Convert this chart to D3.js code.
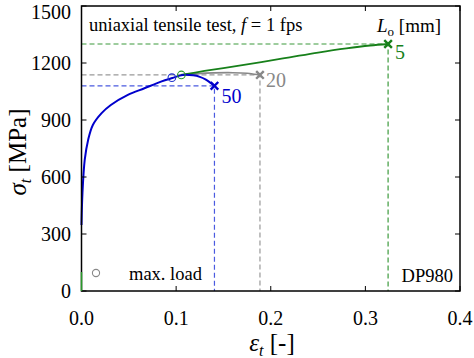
<!DOCTYPE html>
<html><head><meta charset="utf-8">
<script src="https://cdn.jsdelivr.net/npm/d3@7"></script>
<style>body{margin:0;background:#fff}svg{display:block}</style>
</head><body><svg id="c" width="474" height="358" style="font-family:'Liberation Serif','Times New Roman',serif"></svg>
<script>
const xTicks = [0, 0.1, 0.2, 0.3, 0.4];
const xTickLabels = ["0.0", "0.1", "0.2", "0.3", "0.4"];
const yTicks = [0, 300, 600, 900, 1200, 1500];
const blueStrain = [0, 0.001, 0.0034, 0.007, 0.012, 0.021, 0.031, 0.049, 0.0665, 0.084, 0.096, 0.107, 0.118, 0.125, 0.131, 0.136, 0.1405];
const blueStress = [347, 514, 690, 795, 874, 935, 979, 1032, 1067, 1102, 1121, 1137, 1135, 1127, 1114, 1097, 1080];
const grayStrain = [0.105, 0.12, 0.14, 0.16, 0.175, 0.183, 0.1886];
const grayStress = [1137, 1143, 1148, 1149, 1146, 1141, 1137];
const greenStrain = [0.105, 0.13, 0.16, 0.19, 0.22, 0.25, 0.28, 0.305, 0.324];
const greenStress = [1137, 1158, 1181, 1205, 1230, 1255, 1277, 1292, 1300];
const greenElasticStrain = [0, 0];
const greenElasticStress = [0, 100];
const fracture = [
  {name: "50", strain: 0.1405, stress: 1080, color: "#0000cc", dash: "#4a5ae0"},
  {name: "20", strain: 0.1886, stress: 1137, color: "#888888", dash: "#999999"},
  {name: "5",  strain: 0.324,  stress: 1300, color: "#17801a", dash: "#3c9a3c"}
];
const maxLoad = [
  {strain: 0.0955, stress: 1123, color: "#2233cc"},
  {strain: 0.1055, stress: 1137, color: "#2a9a2a"}
];

const svg = d3.select("#c");
const L = 81.5, R = 460, T = 6, B = 291;
const x = d3.scaleLinear().domain([0, 0.4]).range([L, R]);
const y = d3.scaleLinear().domain([0, 1500]).range([B, T]);

fracture.forEach(f => {
  svg.append("path")
    .attr("d", `M${x(0)},${y(f.stress)}H${x(f.strain)}V${y(0)}`)
    .attr("fill", "none").attr("stroke", f.dash).attr("stroke-width", 1.2)
    .attr("stroke-dasharray", "5,3");
});

const line = d3.line().x(d => x(d[0])).y(d => y(d[1])).curve(d3.curveCatmullRom.alpha(0.5));
const zip = (a, b) => a.map((v, i) => [v, b[i]]);

svg.append("path").datum(zip(grayStrain, grayStress)).attr("d", line)
  .attr("fill", "none").attr("stroke", "#888888").attr("stroke-width", 1.6);
svg.append("path").datum(zip(greenStrain, greenStress)).attr("d", line)
  .attr("fill", "none").attr("stroke", "#17801a").attr("stroke-width", 1.8);
svg.append("path").datum(zip(blueStrain, blueStress)).attr("d", line)
  .attr("fill", "none").attr("stroke", "#0000cc").attr("stroke-width", 2);

const axisG = svg.append("g");
axisG.append("rect").attr("x", L).attr("y", T).attr("width", R - L).attr("height", B - T)
  .attr("fill", "none").attr("stroke", "#000").attr("stroke-width", 1.5);
svg.append("path").datum(zip(greenElasticStrain, greenElasticStress)).attr("d", d3.line().x(d => x(d[0])).y(d => y(d[1])))
  .attr("fill", "none").attr("stroke", "#2a9a2a").attr("stroke-width", 1.5);

xTicks.forEach((t, i) => {
  axisG.append("line").attr("x1", x(t)).attr("x2", x(t)).attr("y1", B).attr("y2", B - 5).attr("stroke", "#000");
  axisG.append("line").attr("x1", x(t)).attr("x2", x(t)).attr("y1", T).attr("y2", T + 5).attr("stroke", "#000");
  axisG.append("text").attr("x", x(t)).attr("y", 325).attr("text-anchor", "middle")
    .attr("font-size", 20).text(xTickLabels[i]);
});
yTicks.forEach(t => {
  axisG.append("line").attr("x1", L).attr("x2", L + 5).attr("y1", y(t)).attr("y2", y(t)).attr("stroke", "#000");
  axisG.append("line").attr("x1", R).attr("x2", R - 5).attr("y1", y(t)).attr("y2", y(t)).attr("stroke", "#000");
  axisG.append("text").attr("x", 71).attr("y", Math.max(y(t) + 7, 18.5)).attr("text-anchor", "end")
    .attr("font-size", 20).text(t);
});

maxLoad.forEach(m => {
  svg.append("circle").attr("cx", x(m.strain)).attr("cy", y(m.stress)).attr("r", 3.8)
    .attr("fill", "none").attr("stroke", m.color).attr("stroke-width", 1.1);
});

const labelOff = {"50": [7, 17], "20": [6, 12], "5": [7, 15]};
fracture.forEach(f => {
  const cx = x(f.strain), cy = y(f.stress), s = 3.8;
  svg.append("path").attr("d", `M${cx-s},${cy-s}L${cx+s},${cy+s}M${cx-s},${cy+s}L${cx+s},${cy-s}`)
    .attr("stroke", f.color).attr("stroke-width", 2.4);
  svg.append("text").attr("x", cx + labelOff[f.name][0]).attr("y", cy + labelOff[f.name][1])
    .attr("font-size", 20).attr("fill", f.color).text(f.name);
});

const t1 = svg.append("text").attr("x", 89).attr("y", 31).attr("font-size", 18.5);
t1.append("tspan").text("uniaxial tensile test, ");
t1.append("tspan").attr("font-style", "italic").text("f");
t1.append("tspan").text(" = 1 fps");

const t2 = svg.append("text").attr("x", 377).attr("y", 32).attr("font-size", 19);
t2.append("tspan").attr("font-style", "italic").text("L");
t2.append("tspan").attr("font-size", 13).attr("dy", 4).text("o");
t2.append("tspan").attr("dy", -4).text(" [mm]");

svg.append("circle").attr("cx", 96).attr("cy", 273).attr("r", 3.6)
  .attr("fill", "none").attr("stroke", "#888").attr("stroke-width", 1.1);
svg.append("text").attr("x", 129).attr("y", 280).attr("font-size", 18.5).text("max. load");
svg.append("text").attr("x", 453).attr("y", 282).attr("text-anchor", "end").attr("font-size", 18.5).text("DP980");

const xt = svg.append("text").attr("x", 272).attr("y", 351).attr("text-anchor", "middle").attr("font-size", 25);
xt.append("tspan").attr("font-style", "italic").text("ε");
xt.append("tspan").attr("font-style", "italic").attr("font-size", 16).attr("dy", 5).text("t");
xt.append("tspan").attr("dy", -5).text(" [-]");

const yt = svg.append("text").attr("transform", "translate(26,152) rotate(-90)").attr("text-anchor", "middle").attr("font-size", 25);
yt.append("tspan").attr("font-style", "italic").text("σ");
yt.append("tspan").attr("font-style", "italic").attr("font-size", 16).attr("dy", 5).text("t");
yt.append("tspan").attr("dy", -5).text(" [MPa]");
</script></body></html>
